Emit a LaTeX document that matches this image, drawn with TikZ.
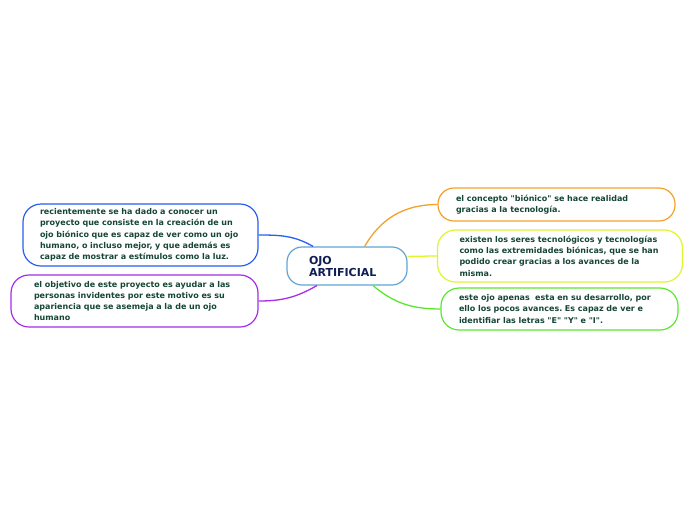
\documentclass[tikz,border=0pt]{standalone}
\usepackage{fontspec}
\setmainfont{DejaVu Sans}
\usetikzlibrary{positioning}
\frenchspacing

\definecolor{idea}{RGB}{22,70,55}
\definecolor{ideacentral}{RGB}{15,30,85}
\definecolor{azul}{RGB}{40,95,240}
\definecolor{morado}{RGB}{165,45,235}
\definecolor{naranja}{RGB}{245,160,45}
\definecolor{amarillo}{RGB}{225,245,45}
\definecolor{verde}{RGB}{90,232,45}
\definecolor{celeste}{RGB}{95,165,215}

\begin{document}
\begin{tikzpicture}
    [
    x=1pt, y=-1pt,
    idea/.style = {draw, line width=1.2pt, fill=white, rectangle, rounded corners=18pt, text width=201pt, align=left, text=idea, font=\fontsize{8}{11.3}\selectfont\bfseries},
    central/.style = {draw=celeste, line width=1.2pt, fill=white, rectangle, rounded corners=15pt, text width=76pt, inner xsep=22pt, minimum height=38pt, align=left, text=ideacentral, font=\fontsize{11}{12}\selectfont\bfseries},
    rama/.style = {line width=1.3pt}
    ]
    \useasboundingbox (0,0) rectangle (696,520);

% Nodes
    \node[central] (ojo) at (347,266) {OJO\\ARTIFICIAL};
    \node[idea, draw=azul, inner xsep=17pt, minimum height=62pt] (luz) at (140.5,235)
        {recientemente se ha dado a conocer un\\ proyecto que consiste en la creación de un\\ ojo biónico que es capaz de ver como un ojo\\ humano, o incluso mejor, y que además es\\ capaz de mostrar a estímulos como la luz.};
    \node[idea, draw=morado, inner xsep=23pt, minimum height=52pt] (objetivo) at (134.5,301)
        {el objetivo de este proyecto es ayudar a las\\ personas invidentes por este motivo es su\\ apariencia que se asemeja a la de un ojo\\ humano};
    \node[idea, draw=naranja, inner xsep=18pt, minimum height=33pt, rounded corners=16pt] (bionico) at (556.5,204.5)
        {el concepto \textquotedbl biónico\textquotedbl{} se hace realidad\\ gracias a la tecnología.};
    \node[idea, draw=amarillo, inner xsep=22pt, minimum height=52pt] (seres) at (560,256)
        {existen los seres tecnológicos y tecnologías\\ como las extremidades biónicas, que se han\\ podido crear gracias a los avances de la\\ misma.};
    \node[idea, draw=verde, inner xsep=18pt, minimum height=42pt] (desarrollo) at (559.5,309)
        {este ojo apenas~ esta en su desarrollo, por\\ ello los pocos avances. Es capaz de ver e\\ identifiar las letras \textquotedbl E\textquotedbl{} \textquotedbl Y\textquotedbl{} e \textquotedbl I\textquotedbl.};

% Connectors
    \draw[rama, azul] (ojo.150) to[out=150, in=0] (luz.east);
    \draw[rama, morado] (ojo.213) to[out=210, in=0] (objetivo.east);
    \draw[rama, naranja] (ojo.48) to[out=60, in=180] (bionico.west);
    \draw[rama, amarillo] (ojo.9) to[out=0, in=180] (seres.west);
    \draw[rama, verde] (ojo.-37) to[out=-40, in=180] (desarrollo.west);

\end{tikzpicture}
\end{document}
